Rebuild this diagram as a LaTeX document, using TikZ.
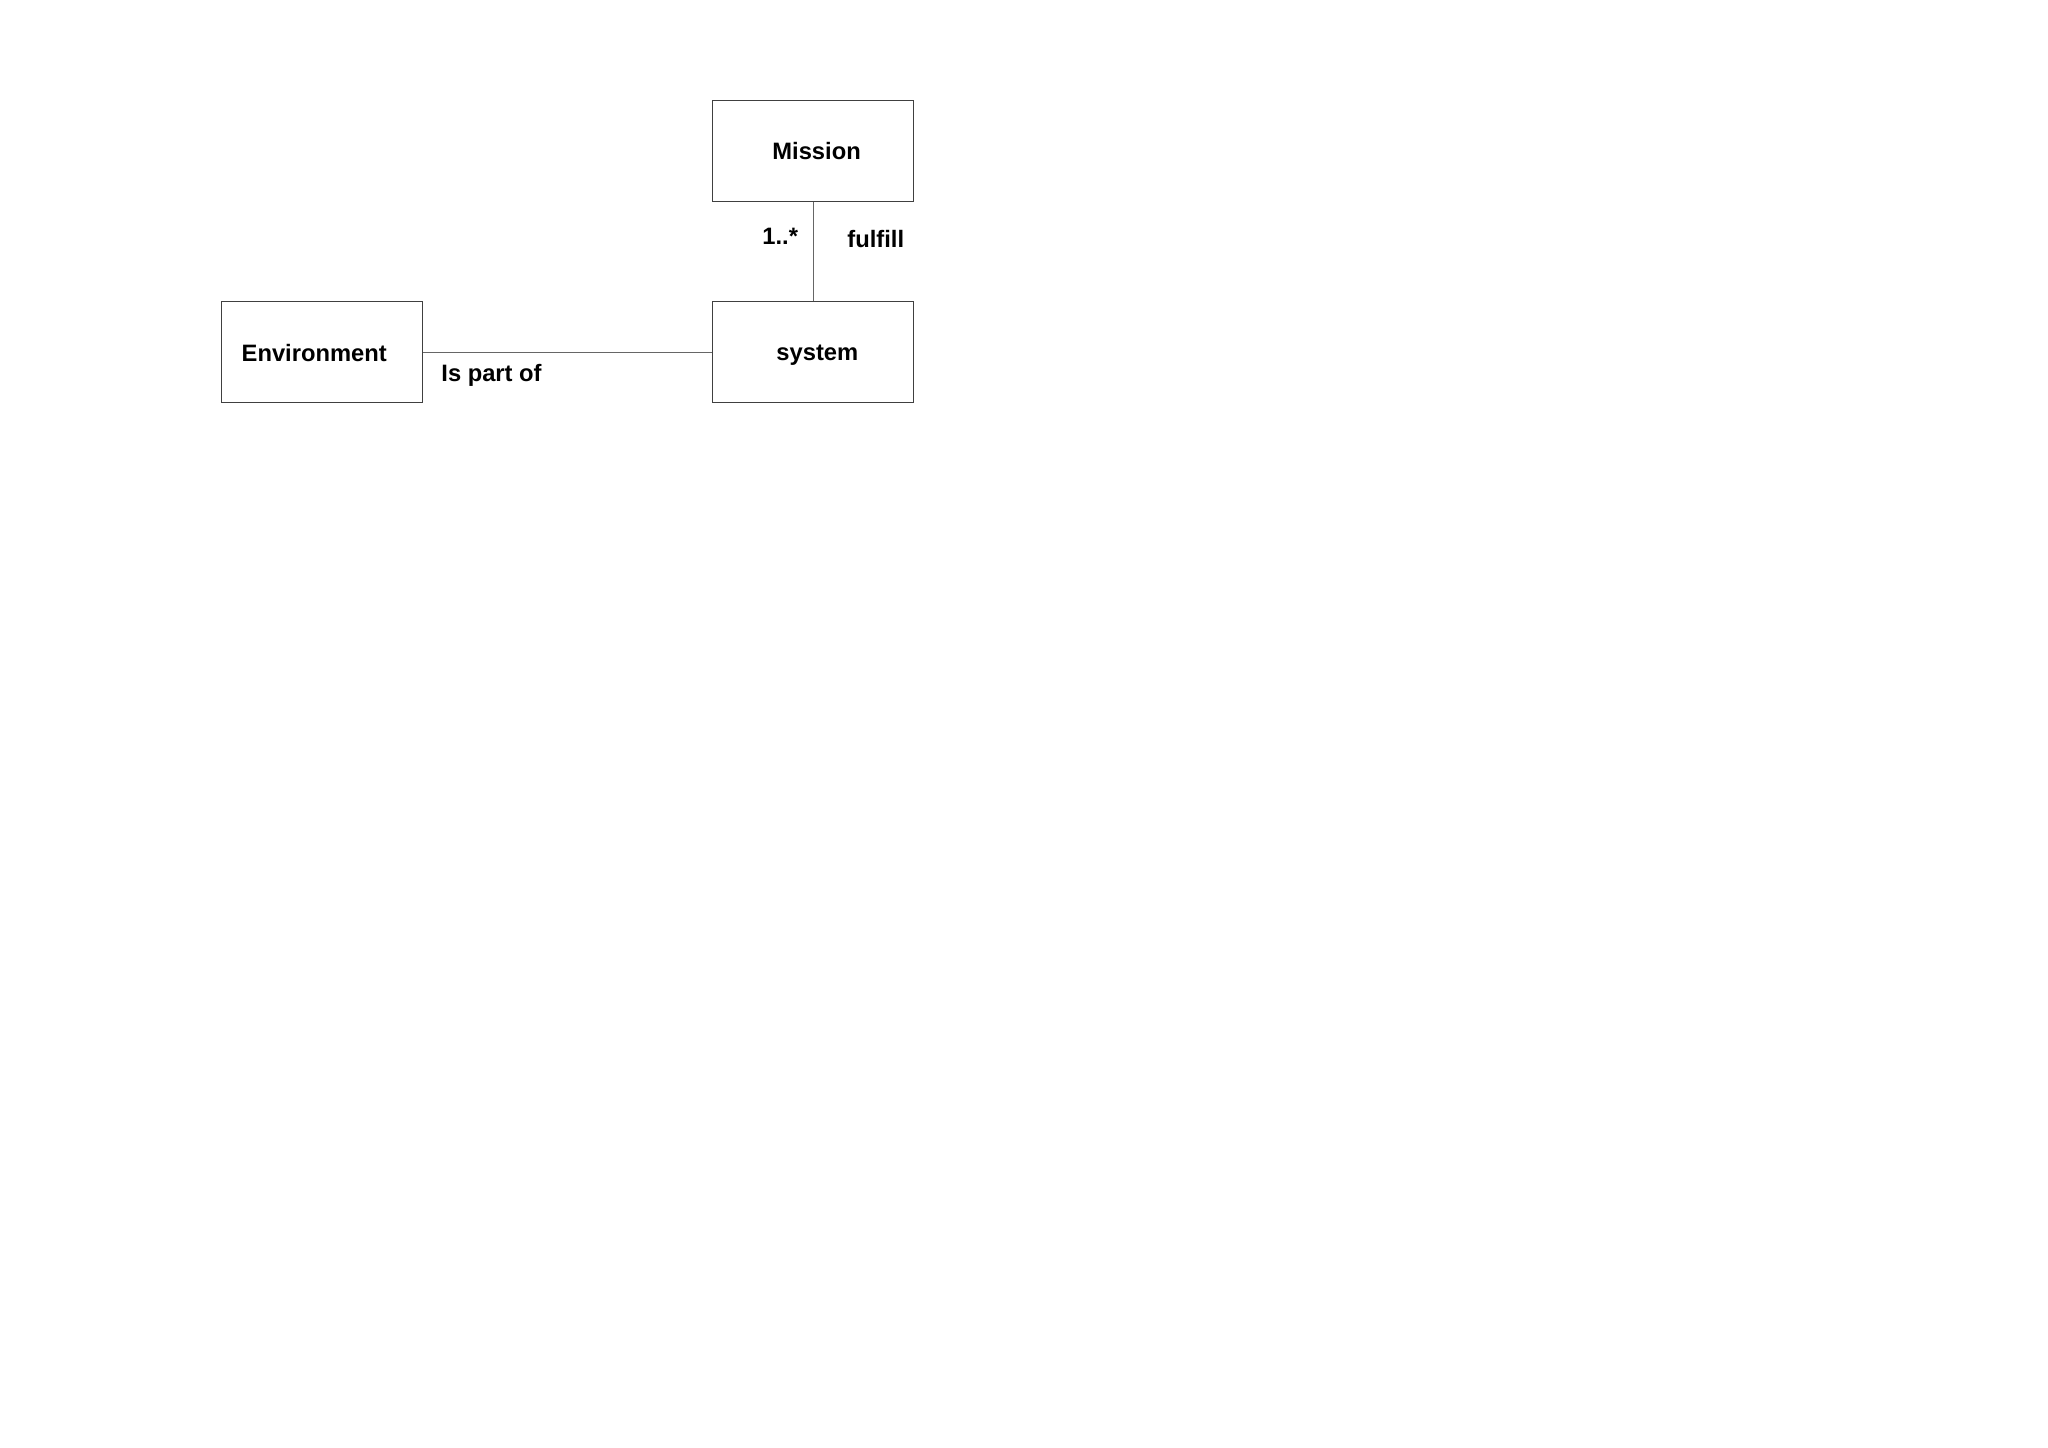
\documentclass[tikz,border=0pt]{standalone}
\usepackage{fontspec}
\setmainfont{Liberation Sans}
\begin{document}
\begin{tikzpicture}[x=0.01cm,y=-0.01cm,
  box/.style={draw=black!75, line width=0.35pt, minimum width=2.01cm, minimum height=1.01cm, inner sep=0pt, anchor=north west},
  txt/.style={inner sep=0pt, anchor=base west, font=\fontsize{6.75pt}{8pt}\selectfont\bfseries},
  link/.style={draw=black!60, line width=0.35pt}]
\useasboundingbox (0,0) rectangle (2048,1447);
\fill[white] (0,0) rectangle (2048,1447);
\node[box] (mission) at (712,99.5) {};
\node[box] (system) at (712,301) {};
\node[box] (env) at (220.5,301) {};
\draw[link] (mission) -- (system);
\draw[link] (env) -- (system);
\node[txt] (missiontxt) at (771.7,159) {Mission};
\node[txt] (systemtxt) at (775.7,360) {system};
\node[txt] (envtxt) at (241,361) {Environment};
\node[txt] (mult) at (761.7,244) {1..*};
\node[txt] (fulfill) at (846.7,247.7) {fulfill};
\node[txt] (partof) at (440.7,381.7) {Is part of};
\end{tikzpicture}
\end{document}
